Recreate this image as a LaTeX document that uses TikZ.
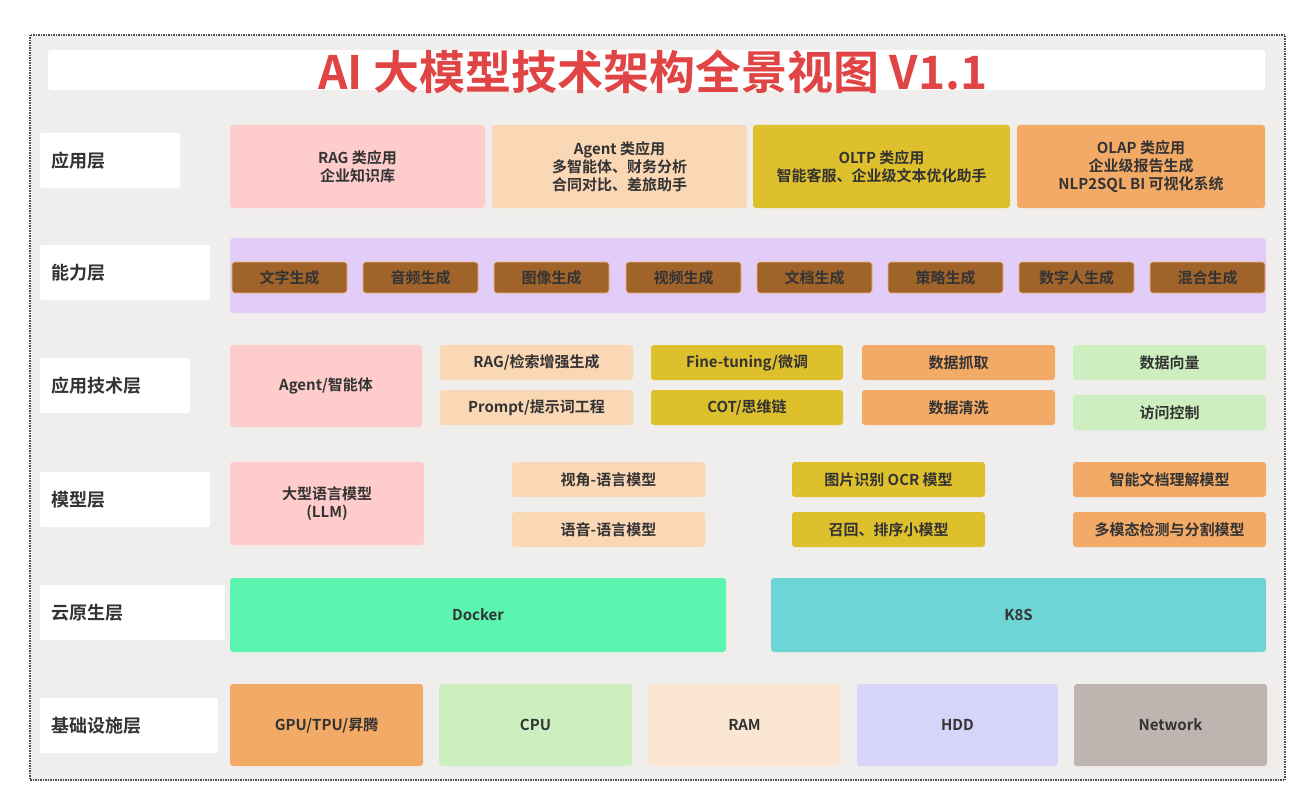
\documentclass[tikz,border=0pt]{standalone}
\usepackage{fontspec}
\setmainfont{Noto Sans CJK SC}[BoldFont={* Bold}]
\begin{document}
\begin{tikzpicture}[x=1pt,y=-1pt,
  bx/.style={rounded corners=3pt,inner sep=0pt,align=center,font=\bfseries\fontsize{15}{18}\selectfont,text=black!80},
  lab/.style={fill=white,rounded corners=2pt,inner sep=0pt,font=\bfseries\fontsize{18}{20}\selectfont,text=black!80}]
\definecolor{bgc}{HTML}{F0EEEC}
\definecolor{pinkc}{HTML}{FFCCCC}
\definecolor{peachc}{HTML}{FAD7B5}
\definecolor{yelc}{HTML}{DEC02C}
\definecolor{orac}{HTML}{F2AA66}
\definecolor{purc}{HTML}{E2CCF8}
\definecolor{brnc}{HTML}{A0642A}
\definecolor{grnc}{HTML}{CDEFC0}
\definecolor{dockc}{HTML}{5CF5B0}
\definecolor{k8sc}{HTML}{6DD5D5}
\definecolor{ramc}{HTML}{FBE6D4}
\definecolor{hddc}{HTML}{D6D4F8}
\definecolor{netc}{HTML}{BEB4B0}
\fill[white] (0,0) rectangle (1305,805);
\useasboundingbox (0,0) rectangle (1305,805);
\fill[bgc] (30,35) rectangle (1285,780);
\draw[densely dotted,line width=1.5pt,black!70] (30,35) rectangle (1285,780);
\node[fill=white,rounded corners=3pt,minimum width=1217pt,minimum height=40pt,inner sep=0pt] (tbar) at (656.5,70) {};
\node[text={rgb,255:red,224;green,68;blue,68},font=\bfseries\fontsize{46}{50}\selectfont] (title) at (653,72) {AI 大模型技术架构全景视图 V1.1};
% labels
\newcommand{\lbl}[6]{\node[lab,minimum width=#3pt,minimum height=55pt] (#1) at (#2,#4) {}; \node[anchor=west,lab,fill=none] (#1t) at (51,#4) {#5};}
\lbl{l1}{110}{140}{160.5}{应用层}{}
\lbl{l2}{125}{170}{272.5}{能力层}{}
\lbl{l3}{115}{150}{385.5}{应用技术层}{}
\lbl{l4}{125}{170}{499.5}{模型层}{}
\lbl{l5}{132.5}{185}{612.5}{云原生层}{}
\lbl{l6}{129}{178}{725.5}{基础设施层}{}
\newcommand{\bbp}[7]{\node[bx,fill=#6,minimum width={(#4-#2)*1pt},minimum height={(#5-#3)*1pt}] (#1) at ({(#2+#4)/2},{(#3+#5)/2}) {#7};}
% row 1
\bbp{a1}{230}{125}{485}{208}{pinkc}{RAG 类应用\\企业知识库}
\bbp{a2}{492}{125}{747}{208}{peachc}{Agent 类应用\\多智能体、财务分析\\合同对比、差旅助手}
\bbp{a3}{753}{125}{1010}{208}{yelc}{OLTP 类应用\\智能客服、企业级文本优化助手}
\bbp{a4}{1017}{125}{1265}{208}{orac}{OLAP 类应用\\企业级报告生成\\NLP2SQL BI 可视化系统}
% row 2
\bbp{cap}{230}{238}{1266}{313}{purc}{}
\foreach \x/\t [count=\i] in {232/文字生成,363/音频生成,494/图像生成,626/视频生成,757/文档生成,888/策略生成,1019/数字人生成,1150/混合生成}{
  \node[bx,fill=brnc,draw={rgb,255:red,240;green,180;blue,120},line width=0.6pt,minimum width=115pt,minimum height=31pt] (c\i) at (\x+57.5,277.5) {\t};}
% row 3
\bbp{t1}{230}{345}{422}{427}{pinkc}{Agent/智能体}
\bbp{t2}{440}{345}{633}{380}{peachc}{RAG/检索增强生成}
\bbp{t3}{440}{390}{633}{425}{peachc}{Prompt/提示词工程}
\bbp{t4}{651}{345}{843}{380}{yelc}{Fine-tuning/微调}
\bbp{t5}{651}{390}{843}{425}{yelc}{COT/思维链}
\bbp{t6}{862}{345}{1055}{380}{orac}{数据抓取}
\bbp{t7}{862}{390}{1055}{425}{orac}{数据清洗}
\bbp{t8}{1073}{345}{1266}{380}{grnc}{数据向量}
\bbp{t9}{1073}{395}{1266}{430}{grnc}{访问控制}
% row 4
\bbp{m1}{230}{462}{424}{545}{pinkc}{大型语言模型\\(LLM)}
\bbp{m2}{512}{462}{705}{497}{peachc}{视角-语言模型}
\bbp{m3}{512}{512}{705}{547}{peachc}{语音-语言模型}
\bbp{m4}{792}{462}{985}{497}{yelc}{图片识别 OCR 模型}
\bbp{m5}{792}{512}{985}{547}{yelc}{召回、排序小模型}
\bbp{m6}{1073}{462}{1266}{497}{orac}{智能文档理解模型}
\bbp{m7}{1073}{512}{1266}{547}{orac}{多模态检测与分割模型}
% row 5
\bbp{d1}{230}{578}{726}{652}{dockc}{Docker}
\bbp{d2}{771}{578}{1266}{652}{k8sc}{K8S}
% row 6
\bbp{i1}{230}{684}{423}{766}{orac}{GPU/TPU/昇腾}
\bbp{i2}{439}{684}{632}{766}{grnc}{CPU}
\bbp{i3}{648}{684}{841}{766}{ramc}{RAM}
\bbp{i4}{857}{684}{1058}{766}{hddc}{HDD}
\bbp{i5}{1074}{684}{1267}{766}{netc}{Network}
\end{tikzpicture}
\end{document}
